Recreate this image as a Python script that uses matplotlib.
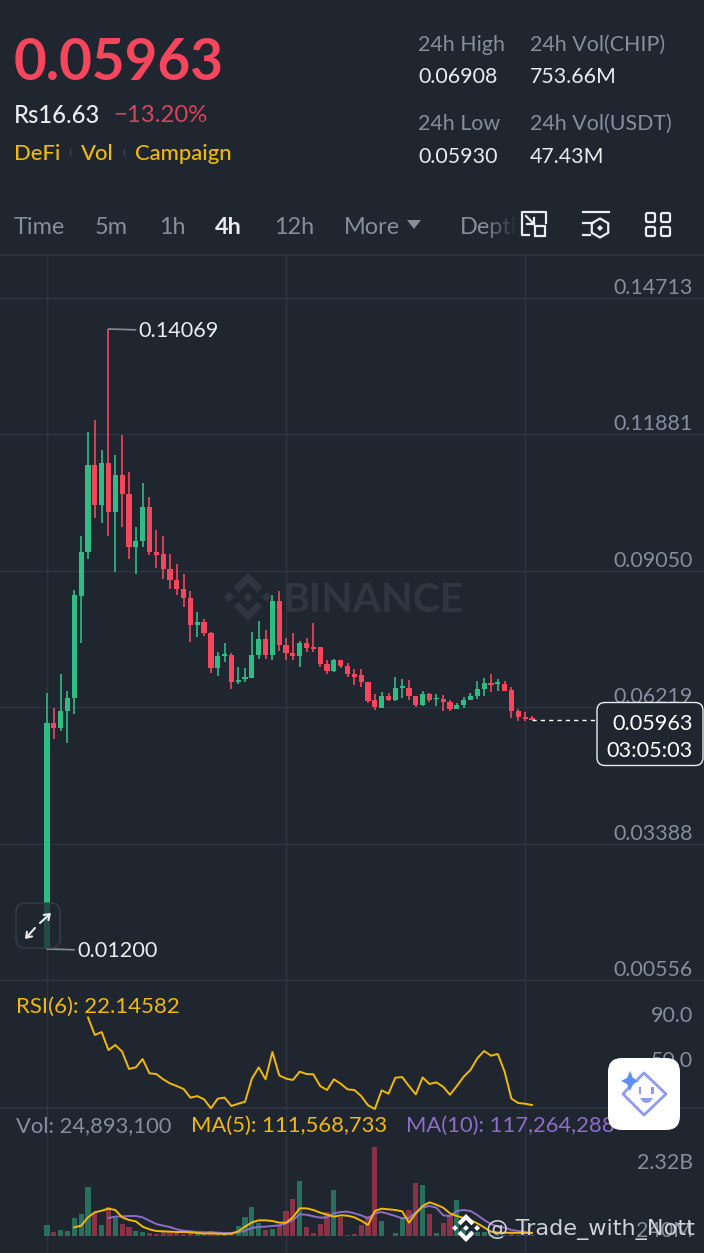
import numpy as np
import matplotlib
matplotlib.use("Agg")
import matplotlib.pyplot as plt
from matplotlib.patches import FancyBboxPatch, Polygon, Rectangle, RegularPolygon

# ---------- data ----------
directions = "GRGGGGGRGRGRRGGRRRRRRRGRRGGRGGGGRGRRRGRRRRGRRRRRRGRGGRRGRGRRGGGGGRGRRRRR"
highs = [.06514,.06203,.06908,.06555,.08652,.09772,.11931,.12181,.11558,.14069,.11454,.11869,
         .11101,.09960,.10873,.10583,.09897,.09772,.09399,.09192,.08984,.08631,.08195,.08050,
         .07780,.07365,.07552,.07345,.07054,.07033,.07780,.08008,.07822,.08548,.08631,.07656,
         .07760,.07593,.07656,.07967,.07469,.07199,.07220,.07199,.07137,.07012,.07012,.06742,
         .06493,.06534,.06514,.06846,.06804,.06784,.06451,.06555,.06514,.06493,.06472,.06369,
         .06307,.06431,.06514,.06763,.06825,.06908,.06804,.06763,.06639,.06182,.06119,.06036]
body_tops = [.05891,.05891,.06140,.06410,.08548,.09440,.11246,.11246,.11288,.11288,.11039,.11039,
             .10645,.09669,.10375,.10375,.09440,.09399,.09088,.08860,.08673,.08486,.07987,.07987,
             .07760,.07282,.07324,.07303,.06784,.06846,.07303,.07635,.07635,.08423,.08423,.07510,
             .07345,.07552,.07552,.07469,.07469,.07116,.07199,.07199,.07074,.06908,.06887,.06742,
             .06369,.06451,.06451,.06618,.06659,.06618,.06451,.06493,.06493,.06410,.06389,.06327,
             .06265,.06369,.06451,.06597,.06722,.06722,.06742,.06701,.06576,.06140,.06016,.05995]
body_bots = [.01240,.05787,.05787,.06140,.06410,.08527,.09440,.10416,.10416,.10271,.10271,.10645,
             .09545,.09545,.09669,.09440,.09378,.09088,.08860,.08673,.08486,.07925,.07925,.07760,
             .07033,.07033,.07282,.06742,.06742,.06804,.06825,.07303,.07303,.07303,.07510,.07345,
             .07282,.07282,.07448,.07427,.07116,.06970,.06970,.07074,.06908,.06846,.06742,.06348,
             .06224,.06203,.06369,.06369,.06618,.06451,.06265,.06265,.06369,.06389,.06327,.06182,
             .06182,.06265,.06369,.06451,.06597,.06680,.06701,.06555,.06140,.06016,.05974,.05963]
lows = [.01200,.05559,.05725,.05476,.06078,.07552,.09295,.10147,.10043,.09772,.09025,.09960,
        .09295,.08984,.09545,.09378,.09109,.08880,.08673,.08548,.08299,.07572,.07677,.07697,
        .06929,.06866,.07157,.06597,.06701,.06742,.06825,.07220,.07220,.07199,.07386,.07199,
        .07199,.07054,.07365,.07365,.07054,.06908,.06949,.07033,.06846,.06680,.06639,.06307,
        .06161,.06203,.06348,.06348,.06410,.06369,.06224,.06244,.06327,.06244,.06140,.06140,
        .06182,.06203,.06369,.06389,.06451,.06534,.06555,.06555,.05995,.05932,.05932,.05963]
price_ticks = [.14713,.11881,.09050,.06219,.03388,.00556]
price_labels = ["0.14713","0.11881","0.09050","0.06219","0.03388","0.00556"]

rsi_values = [100.0,84.4,87.0,71.0,75.5,69.6,54.2,55.6,63.0,50.3,49.7,45.0,41.4,39.0,36.4,28.7,30.1,
              27.2,19.2,27.8,28.7,21.3,23.3,25.1,45.6,55.6,45.0,69.3,48.5,45.6,44.4,51.8,49.7,49.4,
              39.0,35.5,45.0,41.1,36.1,35.5,30.1,21.9,18.6,35.2,32.2,46.4,47.0,39.0,31.6,46.7,40.8,
              42.3,38.4,31.3,39.0,47.3,53.3,63.6,70.2,66.0,67.5,51.8,27.8,23.9,23.3,22.15]
volumes_m = [405,147,221,173,651,810,1814,857,416,1056,651,431,342,184,147,121,85,136,173,110,85,110,
             63,48,195,74,48,74,368,710,1056,467,221,269,405,931,1362,2024,331,121,453,883,1682,688,
             37,63,416,747,3286,552,11,110,688,957,1939,1877,810,99,478,773,1325,294,184,136,158,44,
             37,44,92,55,37,25]
ma5_m = [319,380,687,871,932,1006,957,687,589,540,344,245,184,172,160,147,147,135,110,86,98,86,74,86,
         172,344,503,577,577,552,491,491,687,1018,1018,957,859,785,712,761,748,687,564,405,920,1006,
         982,957,908,491,834,1104,1239,1153,1043,834,736,663,589,466,319,160,125,120,118,115,113,112]
ma10_m = [663,712,724,736,736,687,564,442,380,331,245,196,172,147,135,135,123,110,110,135,196,294,331,
          344,368,393,466,589,798,785,724,675,687,834,883,896,834,761,650,834,883,810,736,650,663,871,
          1055,1104,1043,761,736,920,957,920,773,589,442,344,307,221,184,147,117]

BG = "#1f2630"; GRID = "#2e3540"; GREEN = "#2ebd85"; RED = "#f6465d"
VGREEN = "#27705c"; VRED = "#8a3346"; GREY = "#848e9c"; YEL = "#f0b90b"; PUR = "#8e6cc9"; WHITE = "#eaecef"
VA = "center_baseline"
plt.rcParams["font.family"] = ["Lato", "DejaVu Sans"]

W, H = 704, 1253
fig = plt.figure(figsize=(W/100, H/100), dpi=100, facecolor=BG)

def axpx(x0, y0, x1, y1, z):
    a = fig.add_axes([x0/W, 1-y1/H, (x1-x0)/W, (y1-y0)/H], zorder=z)
    a.patch.set_alpha(0)
    for s in a.spines.values():
        s.set_visible(False)
    return a

bg = axpx(0, 0, W, H, 0); bg.set_xlim(0, W); bg.set_ylim(H, 0); bg.axis("off")

def bnb_logo(a, cx, cy, r, color, z=2):
    def P(pts):
        a.add_patch(Polygon([(cx+p[0]*r, cy-p[1]*r) for p in pts], closed=True, fc=color, ec="none", zorder=z))
    def D(x, y, s):
        P([(x, y+s), (x+s, y), (x, y-s), (x-s, y)])
    D(0, 0, .21); D(-.79, 0, .21); D(.79, 0, .21)
    P([(0, 1), (.6, .4), (.39, .19), (0, .58), (-.39, .19), (-.6, .4)])
    P([(0, -1), (.6, -.4), (.39, -.19), (0, -.58), (-.39, -.19), (-.6, -.4)])

bnb_logo(bg, 248, 597, 24, "#2f3641")
bg.text(283, 597, "BINANCE", color="#2f3641", fontsize=29.5, fontweight="bold", va=VA, ha="left")

n = len(highs)
idx = np.arange(n)
XPP = 6.83
xlim = (-47/XPP, (W-47)/XPP)
vgrid = [0, 35, 70]

# ---------- price panel ----------
ax = axpx(0, 255, W, 980, 1)
PP = 0.00020757
ax.set_xlim(*xlim)
ax.set_ylim(.14713-(980-298)*PP, .14713+(298-255)*PP)
ax.set_xticks(vgrid); ax.set_yticks(price_ticks)
ax.tick_params(length=0, labelbottom=False, labelleft=False)
ax.grid(True, color=GRID, lw=1.0); ax.set_axisbelow(True)
ax.axhline(price_ticks[-1], color=GRID, lw=1.0, clip_on=False, zorder=1)
cols = [GREEN if d == "G" else RED for d in directions]
ax.vlines(idx, lows, highs, colors=cols, lw=1.2, zorder=3)
ax.bar(idx, np.array(body_tops)-np.array(body_bots), bottom=body_bots, width=.76, color=cols, zorder=3, lw=0)
for t, lab in zip(price_ticks, price_labels):
    ax.annotate(lab, xy=(1, t), xycoords=ax.get_yaxis_transform(), xytext=(-11, 12), textcoords="offset pixels",
                ha="right", va=VA, color=GREY, fontsize=15.4, zorder=6)
ax.annotate("0.14069", xy=(idx[9], highs[9]), xytext=(30, 0), textcoords="offset pixels", color=WHITE, fontsize=15.6,
            va=VA, ha="left", arrowprops=dict(arrowstyle="-", color=GREY, lw=1.2, shrinkA=0, shrinkB=0), zorder=5)
ax.annotate("0.01200", xy=(idx[0], lows[0]), xytext=(30, 0), textcoords="offset pixels", color=WHITE, fontsize=15.6,
            va=VA, ha="left", arrowprops=dict(arrowstyle="-", color=GREY, lw=1.2, shrinkA=0, shrinkB=0), zorder=5)
last_close = body_bots[-1]
ax.plot([idx[-1], xlim[1]-15.5], [last_close, last_close], color="white", lw=1, ls=(0, (3, 3)), zorder=4)

# ---------- RSI panel ----------
rx = axpx(0, 980, W, 1108, 1)
RK = 1.125
rx.set_xlim(*xlim); rx.set_ylim(19.5, 19.5+128/RK)
rx.set_xticks(vgrid); rx.set_yticks([])
rx.tick_params(length=0, labelbottom=False, labelleft=False)
rx.grid(True, axis="x", color=GRID, lw=1.0); rx.set_axisbelow(True)
rx.axhline(19.5, color=GRID, lw=1.2, clip_on=False, zorder=1)
rx.plot(idx[6:], rsi_values, color=YEL, lw=1.4, clip_on=False, zorder=3)
for t, lab in zip([90, 50], ["90.0", "50.0"]):
    rx.annotate(lab, xy=(1, t), xycoords=rx.get_yaxis_transform(), xytext=(-11, 15), textcoords="offset pixels",
                ha="right", va=VA, color=GREY, fontsize=15.4)

# ---------- volume panel ----------
vx = axpx(0, 1108, W, H, 1)
VK = 36.8
vx.set_xlim(*xlim); vx.set_ylim(-(H-1236)*VK, (1236-1108)*VK)
vx.set_xticks(vgrid); vx.set_yticks([])
vx.tick_params(length=0, labelbottom=False, labelleft=False)
vx.grid(True, axis="x", color=GRID, lw=1.0); vx.set_axisbelow(True)
vcols = [VGREEN if d == "G" else VRED for d in directions]
vx.bar(idx, volumes_m, width=.76, color=vcols, lw=0, zorder=2)
vx.plot(idx[9:], ma10_m, color=PUR, lw=1.4, zorder=3)
vx.plot(idx[4:], ma5_m, color=YEL, lw=1.4, zorder=4)
vx.annotate("2.32B", xy=(1, 2318), xycoords=vx.get_yaxis_transform(), xytext=(-11, 12), textcoords="offset pixels",
            ha="right", va=VA, color=GREY, fontsize=15.4)
vx.annotate("240M", xy=(1, 240), xycoords=vx.get_yaxis_transform(), xytext=(-11, 0), textcoords="offset pixels",
            ha="right", va=VA, color=GREY, fontsize=15.4, zorder=5)

# ---------- UI overlay ----------
ui = axpx(0, 0, W, H, 5); ui.set_xlim(0, W); ui.set_ylim(H, 0); ui.axis("off")
def T(x, y, s, c=GREY, fs=15.4, w="normal", ha="left", **kw):
    return ui.text(x, y, s, color=c, fontsize=fs, fontweight=w, ha=ha, va=VA, **kw)

T(14, 59, "0.05963", RED, 40.8, "bold")
T(14, 113.5, "Rs16.63", WHITE, 17.2, "medium")
T(113, 113.5, "−13.20%", "#d8445a", 17.2)
T(14, 152, "DeFi", YEL, 15.8, "medium")
T(81, 152, "Vol", YEL, 15.8, "medium")
T(135, 152, "Campaign", YEL, 15.8, "medium")
ui.plot([69.5, 69.5], [149, 155], color="#3a424e", lw=1)
ui.plot([124, 124], [149, 155], color="#3a424e", lw=1)

for x, y, s, c in [(418, 43, "24h High", GREY), (530, 43, "24h Vol(CHIP)", GREY), (418, 75, "0.06908", WHITE),
                   (530, 75, "753.66M", WHITE), (418, 122, "24h Low", GREY), (530, 122, "24h Vol(USDT)", GREY),
                   (418, 155, "0.05930", WHITE), (530, 155, "47.43M", WHITE)]:
    T(x, y, s, c, 15.4)

for x, s in [(14, "Time"), (95, "5m"), (159, "1h"), (274, "12h"), (344, "More"), (460, "Depth")]:
    T(x, 225.5, s, GREY, 16.9)
T(215, 225, "4h", WHITE, 16.9, "bold")
ui.add_patch(Polygon([(407, 220), (421, 220), (414, 229)], fc=GREY, ec="none"))
for i, a in enumerate(np.linspace(.25, 1, 8)):
    ui.add_patch(Rectangle((490+i*3.5, 210), 3.6, 32, fc=BG, ec="none", alpha=a, zorder=3))
ui.add_patch(Rectangle((518, 205), 186, 42, fc=BG, ec="none", zorder=3))
ui.plot([0, W], [254.5, 254.5], color=GRID, lw=1.2, zorder=3)

lw_i = 1.6
ui.plot([534, 522, 522, 529], [212, 212, 235, 235], color=WHITE, lw=lw_i, zorder=4)
ui.plot([534, 546, 546], [212, 212, 223], color=WHITE, lw=lw_i, zorder=4)
ui.add_patch(Rectangle((535, 226), 10, 10, fc="none", ec=WHITE, lw=lw_i, zorder=4))
ui.plot([526, 534], [216, 224], color=WHITE, lw=lw_i, zorder=4)
ui.plot([527, 534, 534], [224, 224, 218], color=WHITE, lw=lw_i, zorder=4)
ui.plot([583, 609], [212, 212], color=WHITE, lw=lw_i, zorder=4)
ui.plot([583, 593], [223, 223], color=WHITE, lw=lw_i, zorder=4)
ui.plot([583, 590], [235, 235], color=WHITE, lw=lw_i, zorder=4)
ui.add_patch(RegularPolygon((600, 228), 6, radius=9.5, fc="none", ec=WHITE, lw=lw_i, zorder=4))
ui.add_patch(RegularPolygon((600, 228), 4, radius=3, fc=WHITE, ec="none", zorder=4))
for x, y in [(645, 212), (660, 212), (645, 226), (660, 226)]:
    ui.add_patch(FancyBboxPatch((x+1, y+1), 9, 9, boxstyle="round,pad=0,rounding_size=1.5", fc="none", ec=WHITE, lw=lw_i, zorder=4))

ui.add_patch(FancyBboxPatch((597, 702.5), 106, 63, boxstyle="round,pad=0,rounding_size=8", fc=BG, ec=WHITE, lw=1))
T(693, 722, "0.05963", "white", 15.6, ha="right")
T(693, 749, "03:05:03", "white", 15.6, ha="right")

ui.add_patch(FancyBboxPatch((16, 903), 44, 45, boxstyle="round,pad=0,rounding_size=9", fc=BG, ec="#3a424e", lw=1.2, alpha=.75))
for (x0, y0, x1, y1) in [(40, 923, 51, 913), (35, 928, 25, 939)]:
    ui.annotate("", xy=(x1, y1), xytext=(x0, y0), arrowprops=dict(arrowstyle="->,head_length=.35,head_width=.25", color=WHITE, lw=1.5, shrinkA=0, shrinkB=0))

T(16, 1005, "RSI(6): 22.14582", YEL, 16.0)
T(16, 1124, "Vol: 24,893,100", GREY, 15.8)
T(191, 1124, "MA(5): 111,568,733", YEL, 15.8)
T(406, 1124, "MA(10): 117,264,288", PUR, 15.8)

ui.add_patch(FancyBboxPatch((608, 1058), 72, 72, boxstyle="round,pad=0,rounding_size=14", fc="white", ec="none", zorder=6))
ui.plot([633, 623, 644, 666, 644, 638], [1083, 1094, 1115, 1094, 1073, 1079], color="#8d9cf0", lw=2, zorder=7)
ui.add_patch(Polygon([(630, 1071), (633, 1078), (639, 1081), (633, 1084), (630, 1091), (627, 1084), (621, 1081), (627, 1078)], fc="#5f8ff5", ec="none", zorder=7))
ui.add_patch(Rectangle((638.5, 1087), 2.6, 7, fc="#8d9cf0", ec="none", zorder=7))
ui.add_patch(Rectangle((651, 1087), 2.6, 7, fc="#8d9cf0", ec="none", zorder=7))
ui.add_patch(Polygon([(640, 1098), (653, 1098), (650, 1102), (646.5, 1103), (643, 1102)], fc="#8d9cf0", ec="none", zorder=7))

bnb_logo(ui, 466, 1228, 14, "white", z=8)
ui.text(486, 1227, "@ Trade_with_Nott", color="#cfd2d6", fontsize=16.1, family="DejaVu Sans", va=VA, ha="left", zorder=8)

fig.savefig("out.png", dpi=100, facecolor=BG)
